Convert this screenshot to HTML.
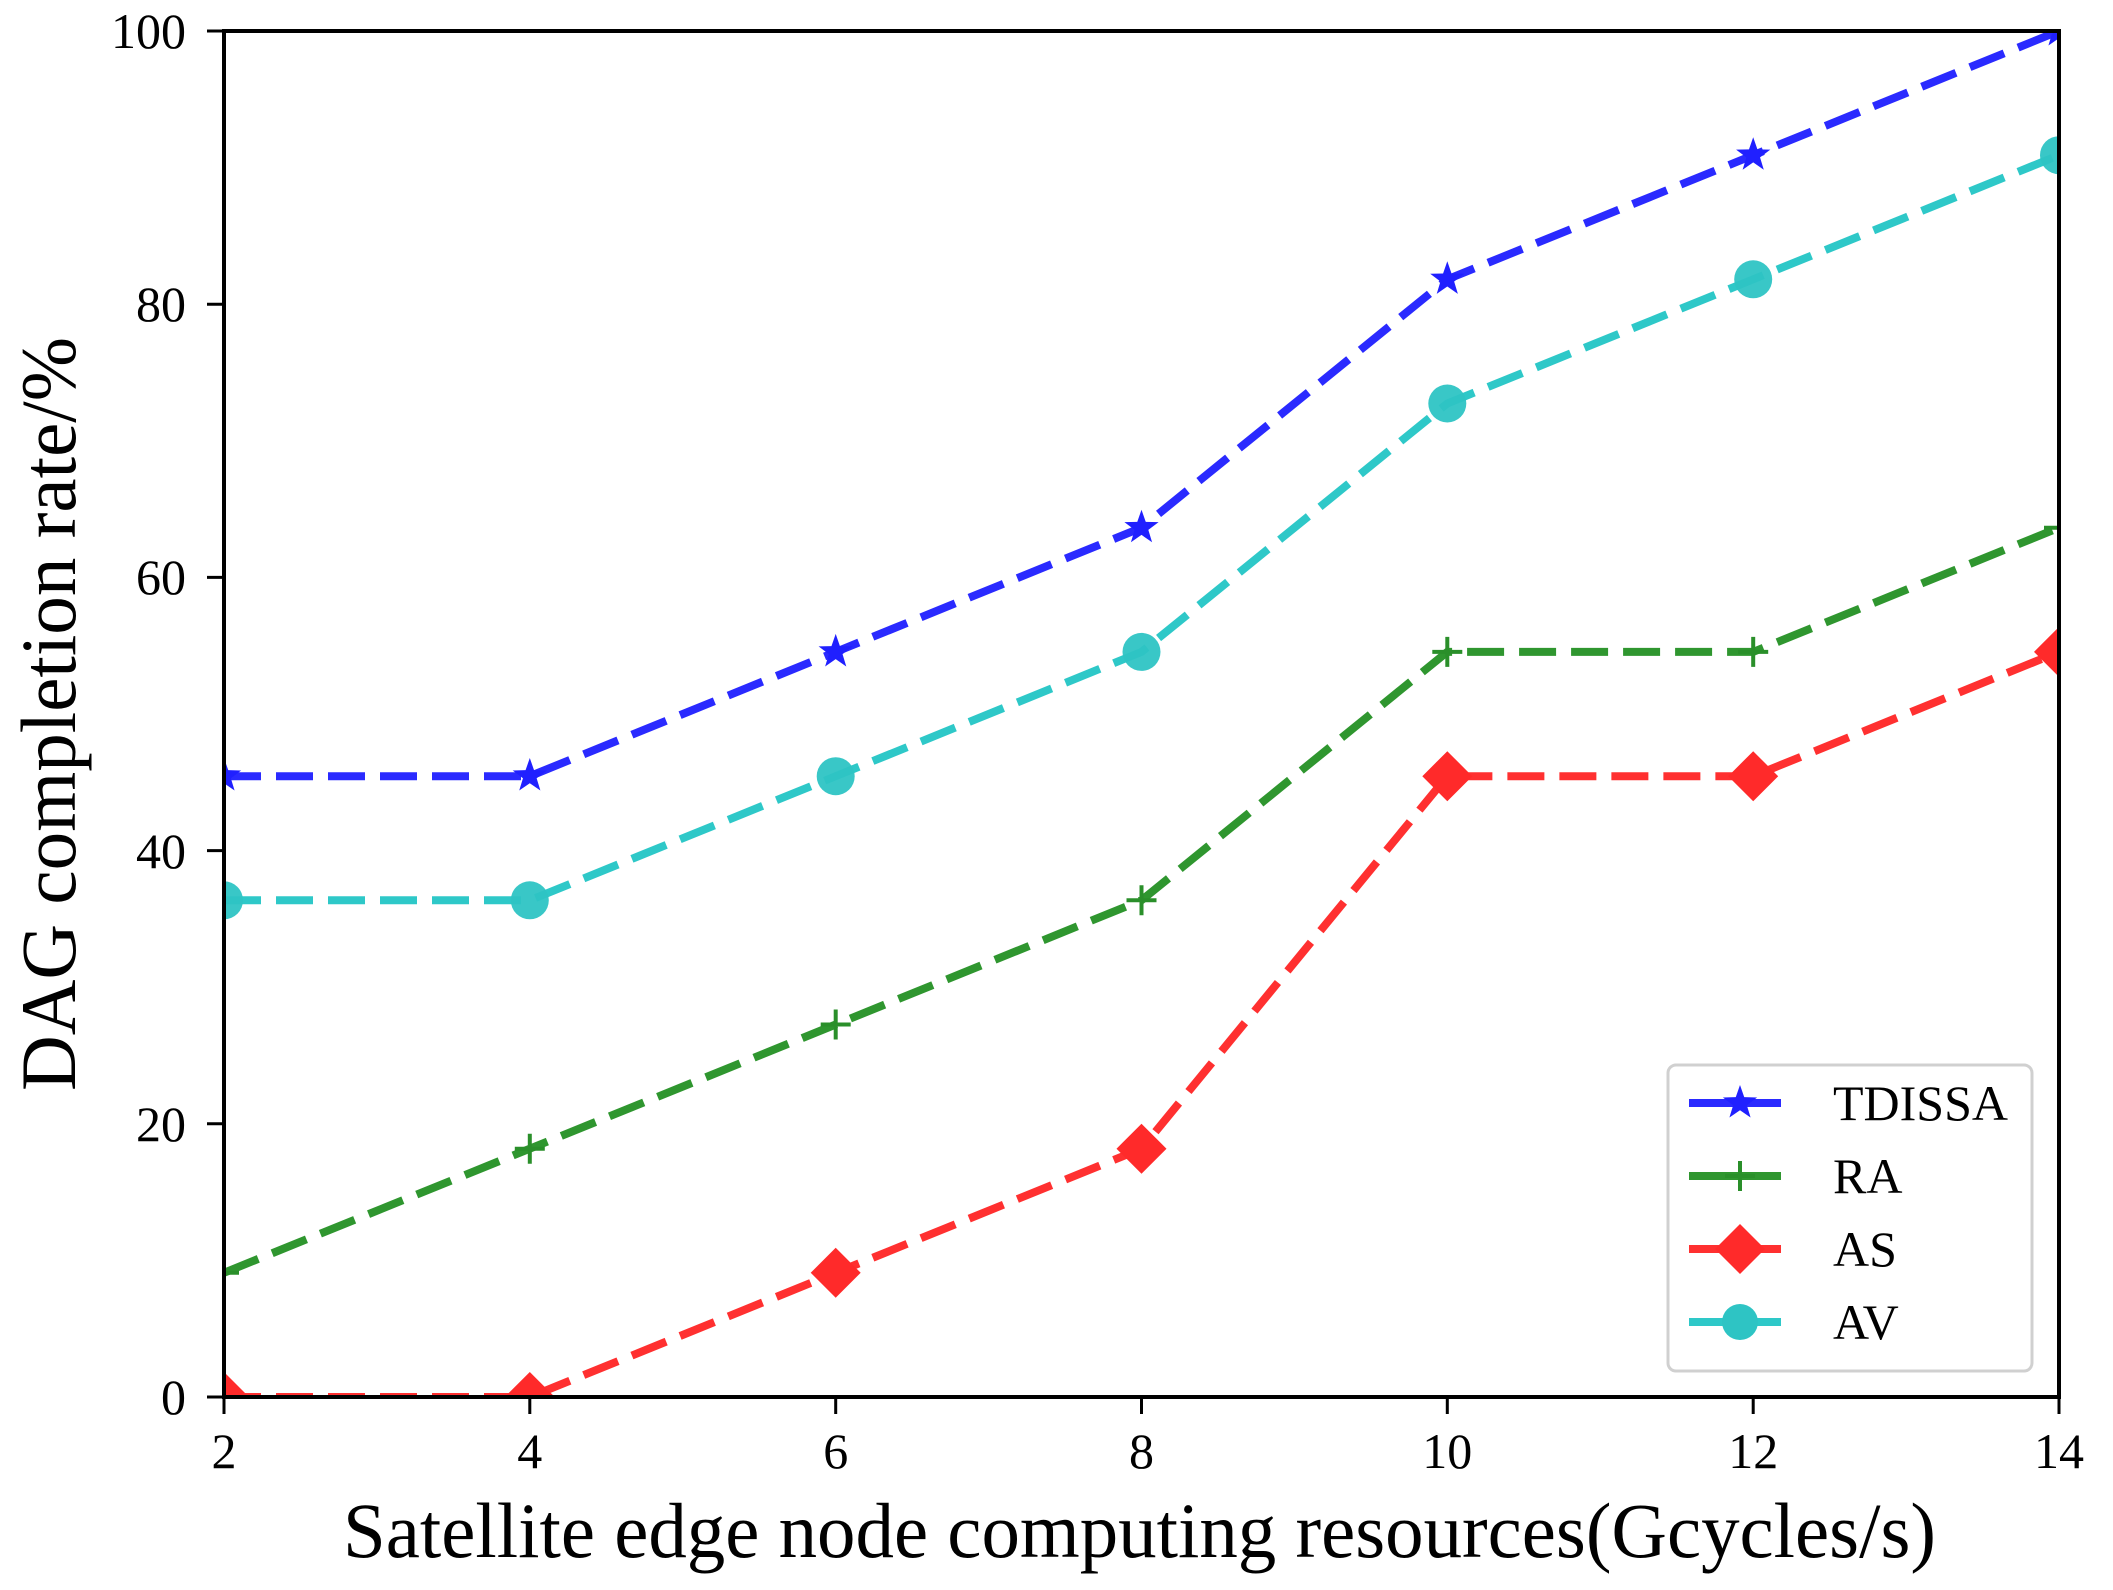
<!DOCTYPE html>
<html><head><style>html,body{margin:0;padding:0;background:#fff}svg{display:block}</style></head>
<body>
<svg width="2113" height="1590" viewBox="0 0 2113 1590" xmlns="http://www.w3.org/2000/svg" font-family="Liberation Serif, serif">
<defs>
<clipPath id="ax"><rect x="224" y="31" width="1835" height="1366"/></clipPath>
<symbol id="star" viewBox="-1 -1 2 2" overflow="visible"><polygon points="0,-1 0.235,-0.324 0.951,-0.309 0.38,0.124 0.588,0.809 0,0.4 -0.588,0.809 -0.38,0.124 -0.951,-0.309 -0.235,-0.324"/></symbol>
</defs>
<g clip-path="url(#ax)" stroke-width="8" fill="none" stroke-dasharray="37,15">
<polyline stroke="#2a2aff" points="224,776.2 529.8,776.2 835.7,651.9 1141.5,527.7 1447.3,279.3 1753.2,155.2 2059,31"/>
<polyline stroke="#2ec8c8" points="224,900.3 529.8,900.3 835.7,776.2 1141.5,651.9 1447.3,403.5 1753.2,279.3 2059,155.2"/>
<polyline stroke="#2f962f" points="224,1272.8 529.8,1148.7 835.7,1024.5 1141.5,900.3 1447.3,651.9 1753.2,651.9 2059,527.7"/>
<polyline stroke="#ff3030" points="224,1397 529.8,1397 835.7,1272.8 1141.5,1148.7 1447.3,776.2 1753.2,776.2 2059,651.9"/>
</g>
<g clip-path="url(#ax)">
<g fill="#2020ff">
<use href="#star" x="206" y="758" width="36" height="36"/><use href="#star" x="511.8" y="758" width="36" height="36"/><use href="#star" x="817.7" y="633.9" width="36" height="36"/><use href="#star" x="1123.5" y="509.7" width="36" height="36"/><use href="#star" x="1429.3" y="261.3" width="36" height="36"/><use href="#star" x="1735.2" y="137.2" width="36" height="36"/><use href="#star" x="2041" y="13" width="36" height="36"/>
</g>
<g fill="#2ec4c4" opacity="0.95">
<circle cx="224" cy="900.3" r="19"/><circle cx="529.8" cy="900.3" r="19"/><circle cx="835.7" cy="776.2" r="19"/><circle cx="1141.5" cy="651.9" r="19"/><circle cx="1447.3" cy="403.5" r="19"/><circle cx="1753.2" cy="279.3" r="19"/><circle cx="2059" cy="155.2" r="19"/>
</g>
<g stroke="#2a8f2a" stroke-width="4">
<path d="M209,1272.8h30M224,1257.8v30M514.8,1148.7h30M529.8,1133.7v30M820.7,1024.5h30M835.7,1009.5v30M1126.5,900.3h30M1141.5,885.3v30M1432.3,651.9h30M1447.3,636.9v30M1738.2,651.9h30M1753.2,636.9v30M2044,527.7h30M2059,512.7v30"/>
</g>
<g fill="#ff2a2a">
<path d="M224,1372l25,25l-25,25l-25,-25z M529.8,1372l25,25l-25,25l-25,-25z M835.7,1247.8l25,25l-25,25l-25,-25z M1141.5,1123.7l25,25l-25,25l-25,-25z M1447.3,751.2l25,25l-25,25l-25,-25z M1753.2,751.2l25,25l-25,25l-25,-25z M2059,626.9l25,25l-25,25l-25,-25z"/>
</g>
</g>
<rect x="224" y="31" width="1835" height="1366" fill="none" stroke="#000" stroke-width="4"/>
<g stroke="#000" stroke-width="3">
<path d="M224,1397v17M529.8,1397v17M835.7,1397v17M1141.5,1397v17M1447.3,1397v17M1753.2,1397v17M2059,1397v17"/>
<path d="M224,1397h-17M224,1123.8h-17M224,850.6h-17M224,577.4h-17M224,304.2h-17M224,31h-17"/>
</g>
<g font-size="50" fill="#000" text-anchor="middle">
<text x="224" y="1468">2</text><text x="529.8" y="1468">4</text><text x="835.7" y="1468">6</text><text x="1141.5" y="1468">8</text><text x="1447.3" y="1468">10</text><text x="1753.2" y="1468">12</text><text x="2059" y="1468">14</text>
</g>
<g font-size="50" fill="#000" text-anchor="end">
<text x="186" y="1414">0</text><text x="186" y="1141">20</text><text x="186" y="868">40</text><text x="186" y="594">60</text><text x="186" y="321">80</text><text x="186" y="48">100</text>
</g>
<text x="343" y="1557" font-size="78" textLength="1593" lengthAdjust="spacingAndGlyphs">Satellite edge node computing resources(Gcycles/s)</text>
<text transform="translate(75,1091) rotate(-90)" font-size="78" textLength="754" lengthAdjust="spacingAndGlyphs">DAG completion rate/%</text>
<rect x="1668" y="1065" width="364" height="306" rx="8" fill="#fff" fill-opacity="0.8" stroke="#d0d0d0" stroke-width="3"/>
<g stroke-width="8">
<path d="M1689,1103h92" stroke="#2a2aff"/><path d="M1689,1176h92" stroke="#2f962f"/><path d="M1689,1249h92" stroke="#ff3030"/><path d="M1689,1322h92" stroke="#2ec8c8"/>
</g>
<use href="#star" x="1722" y="1085" width="36" height="36" fill="#2020ff"/>
<path d="M1725,1176h30M1740,1161v30" stroke="#2a8f2a" stroke-width="4"/>
<path d="M1740,1224l25,25l-25,25l-25,-25z" fill="#ff2a2a"/>
<circle cx="1740" cy="1322" r="18" fill="#2ec4c4"/>
<g font-size="50" fill="#000">
<text x="1833" y="1120">TDISSA</text><text x="1833" y="1193">RA</text><text x="1833" y="1266">AS</text><text x="1833" y="1339">AV</text>
</g>
</svg>
</body></html>
